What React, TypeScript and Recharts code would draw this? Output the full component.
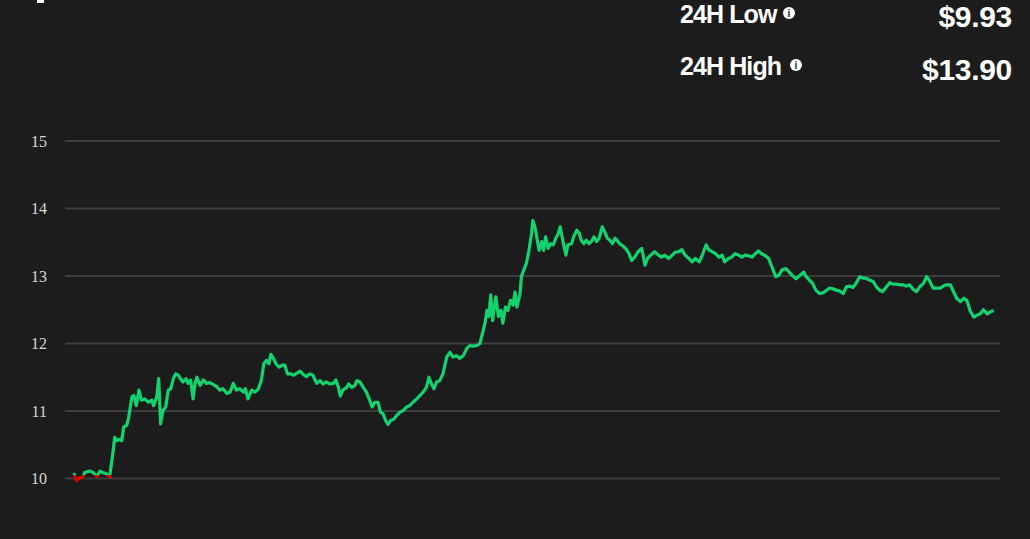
import React from "react";
import { LineChart, Line, XAxis, YAxis, CartesianGrid } from "recharts";

// minutes since window start (24h window)
const minutes = [
  0, 4, 9, 14, 17, 25, 30, 36, 41, 45, 51, 56, 61, 64, 67, 71, 75, 78, 83, 86,
  91, 94, 98, 102, 106, 111, 117, 122, 125, 130, 133, 136, 140, 144, 148, 152, 156, 160, 164, 167,
  171, 176, 179, 183, 187, 190, 193, 198, 203, 208, 213, 219, 224, 229, 234, 240, 245, 250, 255, 260,
  266, 269, 273, 279, 284, 289, 294, 298, 302, 306, 309, 313, 317, 322, 327, 331, 335, 340, 345, 350,
  355, 360, 365, 370, 375, 381, 386, 391, 396, 402, 407, 411, 415, 418, 422, 428, 431, 436, 441, 444,
  449, 454, 459, 464, 468, 472, 477, 481, 485, 489, 493, 497, 502, 506, 511, 517, 522, 527, 532, 538,
  543, 548, 553, 557, 561, 565, 569, 574, 579, 585, 590, 595, 600, 605, 611, 616, 621, 626, 632, 637,
  641, 645, 648, 651, 654, 657, 659, 662, 666, 670, 673, 677, 681, 685, 689, 692, 695, 700, 702, 706,
  710, 714, 718, 720, 724, 727, 730, 734, 737, 740, 744, 748, 752, 756, 760, 763, 768, 772, 775, 781,
  784, 789, 793, 796, 800, 804, 808, 812, 816, 820, 824, 829, 833, 837, 841, 845, 849, 852, 856, 862,
  867, 871, 875, 880, 885, 891, 896, 900, 905, 911, 917, 922, 927, 933, 938, 943, 949, 954, 959, 965,
  970, 975, 981, 986, 989, 992, 996, 1001, 1007, 1012, 1017, 1021, 1027, 1032, 1037, 1043, 1048, 1053, 1058, 1064,
  1069, 1074, 1079, 1085, 1090, 1095, 1101, 1106, 1111, 1117, 1122, 1127, 1133, 1139, 1145, 1149, 1154, 1159, 1164, 1170,
  1175, 1180, 1185, 1191, 1196, 1201, 1207, 1212, 1217, 1222, 1227, 1233, 1238, 1243, 1248, 1254, 1259, 1264, 1269, 1275,
  1280, 1285, 1290, 1296, 1301, 1306, 1311, 1317, 1322, 1327, 1333, 1338, 1343, 1348, 1354, 1359, 1364, 1369, 1375, 1380,
  1385, 1391, 1396, 1401, 1406, 1412, 1417, 1422, 1427, 1433, 1438, 1443,
];

const prices = [
  10.08, 9.97, 10.01, 10.02, 10.09, 10.11, 10.09, 10.03, 10.11, 10.09, 10.07, 10.02, 10.37, 10.61, 10.56, 10.58, 10.56, 10.76, 10.79, 10.91,
  11.21, 11.23, 11.08, 11.31, 11.16, 11.18, 11.13, 11.16, 11.08, 11.21, 11.48, 10.81, 11.01, 11.06, 11.31, 11.33, 11.48, 11.55, 11.53, 11.48,
  11.43, 11.48, 11.41, 11.46, 11.18, 11.41, 11.5, 11.38, 11.46, 11.41, 11.42, 11.39, 11.36, 11.31, 11.33, 11.26, 11.28, 11.41, 11.31, 11.33,
  11.28, 11.33, 11.18, 11.31, 11.28, 11.32, 11.45, 11.7, 11.75, 11.7, 11.84, 11.78, 11.7, 11.65, 11.68, 11.68, 11.55, 11.55, 11.53, 11.56,
  11.59, 11.54, 11.51, 11.55, 11.53, 11.41, 11.45, 11.4, 11.43, 11.4, 11.41, 11.46, 11.35, 11.22, 11.31, 11.35, 11.4, 11.35, 11.38, 11.45,
  11.43, 11.35, 11.28, 11.16, 11.06, 11.13, 11.13, 10.98, 10.96, 10.86, 10.8, 10.86, 10.88, 10.93, 10.98, 11.01, 11.06, 11.08, 11.13, 11.18,
  11.23, 11.28, 11.35, 11.5, 11.4, 11.33, 11.43, 11.45, 11.55, 11.8, 11.87, 11.8, 11.82, 11.78, 11.82, 11.92, 11.97, 11.96, 11.97, 12.0,
  12.15, 12.3, 12.49, 12.4, 12.72, 12.34, 12.49, 12.69, 12.4, 12.49, 12.3, 12.54, 12.49, 12.64, 12.57, 12.76, 12.54, 12.74, 12.99, 13.09,
  13.19, 13.38, 13.63, 13.82, 13.7, 13.53, 13.38, 13.51, 13.38, 13.58, 13.41, 13.48, 13.46, 13.56, 13.63, 13.73, 13.48, 13.31, 13.46, 13.48,
  13.58, 13.68, 13.63, 13.53, 13.48, 13.53, 13.48, 13.51, 13.58, 13.51, 13.56, 13.73, 13.65, 13.56, 13.53, 13.48, 13.56, 13.53, 13.48, 13.44,
  13.39, 13.33, 13.23, 13.28, 13.36, 13.41, 13.16, 13.26, 13.31, 13.36, 13.31, 13.28, 13.31, 13.26, 13.3, 13.35, 13.36, 13.39, 13.31, 13.26,
  13.21, 13.26, 13.21, 13.31, 13.39, 13.46, 13.39, 13.36, 13.33, 13.28, 13.31, 13.21, 13.26, 13.28, 13.33, 13.31, 13.28, 13.31, 13.3, 13.28,
  13.33, 13.37, 13.33, 13.3, 13.26, 13.14, 12.99, 13.01, 13.09, 13.11, 13.06, 13.01, 12.96, 13.01, 13.06, 12.99, 12.94, 12.89, 12.79, 12.74,
  12.75, 12.78, 12.82, 12.81, 12.79, 12.78, 12.74, 12.84, 12.85, 12.83, 12.89, 12.99, 12.97, 12.97, 12.94, 12.92, 12.84, 12.79, 12.77, 12.84,
  12.9, 12.88, 12.88, 12.87, 12.87, 12.85, 12.87, 12.8, 12.77, 12.84, 12.89, 12.99, 12.92, 12.82, 12.82, 12.82, 12.85, 12.87, 12.87, 12.77,
  12.67, 12.62, 12.67, 12.64, 12.49, 12.39, 12.42, 12.44, 12.5, 12.44, 12.47, 12.49,
];

const yTicks = [10, 11, 12, 13, 14, 15];
const yDomain: [number, number] = [9.8, 15];
const openThreshold = 10.05;

const statLabels = ["24H Low", "24H High"];
const statValues = ["$9.93", "$13.90"];

const data = minutes.map((m, i) => ({ t: m, price: prices[i] }));
const maxP = Math.max(...prices);
const minP = Math.min(...prices);
const splitOffset = (maxP - openThreshold) / (maxP - minP);

const GREEN = "#14d36e";
const RED = "#e00000";

const gridGen = (props: any) => {
  const off = props && props.offset;
  if (!off) return [];
  const [lo, hi] = yDomain;
  return yTicks.map((t) => off.top + ((hi - t) / (hi - lo)) * off.height);
};

export default function App() {
  return (
    <div
      style={{
        position: "absolute",
        left: 0,
        top: 0,
        width: 1030,
        height: 539,
        background: "#1c1c1c",
        overflow: "hidden",
      }}
    >
      <LineChart
        width={1030}
        height={539}
        data={data}
        margin={{ top: 141, right: 30, bottom: 47, left: 0 }}
      >
        <defs>
          <linearGradient id="priceStroke" x1="0" y1="0" x2="0" y2="1">
            <stop offset={0} stopColor={GREEN} />
            <stop offset={splitOffset} stopColor={GREEN} />
            <stop offset={splitOffset} stopColor={RED} />
            <stop offset={1} stopColor={RED} />
          </linearGradient>
        </defs>
        <CartesianGrid
          vertical={false}
          stroke="#3d3d3d"
          strokeWidth={2}
          horizontalCoordinatesGenerator={gridGen}
        />
        <XAxis dataKey="t" type="number" domain={[-14, 1453]} hide />
        <YAxis
          type="number"
          domain={yDomain}
          ticks={yTicks}
          width={65}
          axisLine={false}
          tickLine={false}
          tickSize={6}
          tickMargin={12}
          tick={{ fill: "#d6d6d6", fontSize: 16, fontFamily: "'Liberation Serif', 'DejaVu Serif', serif" }}
        />
        <Line
          type="linear"
          dataKey="price"
          stroke="url(#priceStroke)"
          strokeWidth={3.2}
          strokeLinejoin="round"
          dot={false}
          isAnimationActive={false}
        />
      </LineChart>
      <svg
        width={1030}
        height={120}
        style={{ position: "absolute", left: 0, top: 0 }}
      >
        <rect x={37} y={0} width={7} height={3} fill="#ffffff" />
        {statLabels.map((lab, i) => {
          const baseY = i === 0 ? 23 : 75;
          const valY = i === 0 ? 27 : 80;
          const iconX = i === 0 ? 789 : 796;
          return (
            <g key={lab}>
              <text
                x={680}
                y={baseY}
                fill="#ffffff"
                fontFamily="'Liberation Sans', Arial, sans-serif"
                fontWeight={700}
                fontSize={25}
                letterSpacing={-0.9}
              >
                {lab}
              </text>
              <circle cx={iconX} cy={baseY - 10} r={6} fill="#ffffff" />
              <text
                x={iconX}
                y={baseY - 6}
                fill="#1c1c1c"
                textAnchor="middle"
                fontFamily="'Liberation Sans', Arial, sans-serif"
                fontWeight={700}
                fontSize={10}
              >
                i
              </text>
              <text
                x={1012}
                y={valY}
                fill="#ffffff"
                textAnchor="end"
                fontFamily="'Liberation Sans', Arial, sans-serif"
                fontWeight={700}
                fontSize={30}
                letterSpacing={-0.3}
              >
                {statValues[i]}
              </text>
            </g>
          );
        })}
      </svg>
    </div>
  );
}
